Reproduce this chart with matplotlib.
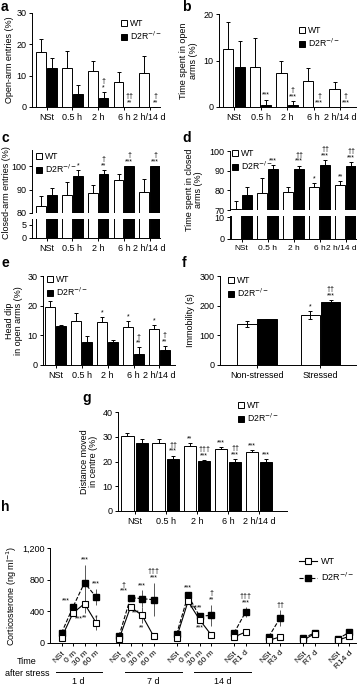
import numpy as np
import matplotlib
matplotlib.use("Agg")
import matplotlib.pyplot as plt
from matplotlib.patches import Patch
from matplotlib.lines import Line2D
from matplotlib.transforms import blended_transform_factory, ScaledTranslation

plt.rcParams['font.family'] = ['Liberation Sans', 'DejaVu Sans']
plt.rcParams['font.size'] = 6.5
plt.rcParams['axes.linewidth'] = 0.7
plt.rcParams['xtick.major.width'] = 0.7
plt.rcParams['ytick.major.width'] = 0.7
plt.rcParams['xtick.major.size'] = 2.5
plt.rcParams['ytick.major.size'] = 2.5
plt.rcParams['xtick.major.pad'] = 2
plt.rcParams['ytick.major.pad'] = 1.5

# ---- data ----
groups = ['NSt', '0.5 h', '2 h', '6 h', '2 h/14 d']
D2R = 'D2R$^{-/-}$'

# a: open-arm entries (%)
a_wt = [17.4, 12.3, 11.4, 8.0, 10.9]
a_wt_err = [4.2, 5.6, 3.4, 3.3, 5.4]
a_ko = [12.3, 4.1, 3.0, 0, 0]
a_ko_err = [3.2, 2.8, 1.8, 0, 0]
a_marks = ['', '', '†\n*', '††\n**', '†\n**']

# b: time spent in open arms (%)
b_wt = [12.4, 8.6, 7.3, 5.6, 3.8]
b_wt_err = [5.8, 6.3, 2.5, 2.7, 1.5]
b_ko = [8.5, 0.5, 0.4, 0, 0]
b_ko_err = [5.7, 1.1, 0.8, 0, 0]
b_marks = ['', '***', '†\n***', '†\n***', '†\n***']

# c: closed-arm entries (%)
c_wt = [82.8, 87.8, 88.6, 94.3, 89.2]
c_wt_err = [4.3, 5.6, 3.4, 2.6, 5.4]
c_ko = [87.8, 95.9, 96.8, 100, 100]
c_ko_err = [3.1, 2.6, 1.5, 0, 0]
c_marks = ['', '*', '†\n**', '†\n***', '†\n***']

# d: time spent in closed arms (%)
d_wt = [70.6, 78.8, 78.9, 81.7, 82.5]
d_wt_err = [3.8, 7.6, 2.9, 2.2, 2.3]
d_ko = [77.7, 91.0, 90.6, 93.1, 92.5]
d_ko_err = [4.2, 1.8, 2.0, 2.3, 2.1]
d_wt_marks = ['', '', '', '*', '**']
d_marks = ['', '***', '††\n***', '††\n***', '††\n***']

# e: head dip in open arms (%)
e_wt = [19.7, 15.0, 14.6, 12.9, 12.1]
e_wt_err = [1.8, 2.6, 1.6, 2.0, 1.4]
e_ko = [13.1, 7.9, 7.6, 3.7, 5.1]
e_ko_err = [0.5, 1.8, 0.9, 2.2, 1.3]
e_wt_marks = ['', '', '*', '*', '*']
e_marks = ['', '', '', '†\n**', '†\n**']

# f: immobility (s)
f_cats = ['Non-stressed', 'Stressed']
f_wt = [137, 168]
f_wt_err = [10, 14]
f_ko = [154, 211]
f_ko_err = [2, 7]
f_wt_marks = ['', '*']
f_marks = ['', '††\n***']

# g: distance moved in centre (%)
g_wt = [30.3, 27.4, 26.2, 25.0, 23.8]
g_wt_err = [1.2, 1.5, 1.1, 1.0, 0.7]
g_ko = [27.4, 21.1, 20.1, 19.8, 19.8]
g_ko_err = [1.7, 1.3, 0.6, 1.3, 1.3]
g_wt_marks = ['', '', '**', '***', '***']
g_marks = ['', '††\n***', '†††\n***', '††\n***', '***']

# h: corticosterone (ng/ml)
h_x = [0, 1, 2, 3, 5, 6, 7, 8, 10, 11, 12, 13, 15, 16, 18, 19, 21, 22, 24, 25]
h_labels = ['NSt', '0 m', '30 m', '60 m'] * 3 + ['NSt', 'R1 d', 'NSt', 'R3 d',
                                                  'NSt', 'R7 d', 'NSt', 'R14 d']
h_segments = [(0, 4), (4, 8), (8, 12), (12, 14), (14, 16), (16, 18), (18, 20)]
h_wt = [67, 379, 497, 257, 50, 455, 350, 88, 67, 526, 295, 105,
        76, 139, 34, 76, 34, 118, 34, 84]
h_wt_err = [15, 25, 120, 90, 10, 25, 100, 15, 10, 25, 40, 20,
            10, 15, 8, 12, 8, 15, 8, 15]
h_ko = [126, 455, 762, 581, 88, 573, 560, 547, 110, 602, 337, 350,
        126, 391, 76, 315, 63, 126, 50, 134]
h_ko_err = [20, 30, 220, 105, 15, 25, 105, 210, 15, 30, 40, 130,
            20, 60, 15, 100, 12, 15, 10, 15]
# (point index, series, text, where)
h_marks = [(1, 'ko', '***', 'ul'), (1, 'wt', '***', 'lr'), (2, 'ko', '***', 'up'),
           (2, 'wt', '**', 'dn'), (3, 'ko', '***', 'up'), (3, 'wt', '*', 'mid'),
           (5, 'ko', '†\n***', 'ul'), (5, 'wt', '***', 'lr'), (6, 'ko', '***', 'up'),
           (6, 'wt', '**', 'dn'), (7, 'ko', '†††\n***', 'up'),
           (9, 'ko', '***', 'up'), (9, 'wt', '***', 'lr'), (10, 'ko', '**', 'up'),
           (10, 'wt', '***', 'dn'), (11, 'ko', '†\n**', 'up'),
           (13, 'ko', '†††\n***', 'up'), (15, 'ko', '††', 'up')]
h_groups = [('1 d', 0, 3), ('7 d', 5, 8), ('14 d', 10, 13)]

W, H = 359, 685
fig = plt.figure(figsize=(W / 100, H / 100), dpi=100)


def px_axes(l, t, r, b):
    return fig.add_axes([l / W, 1 - b / H, (r - l) / W, (b - t) / H])


def style(ax, bottom=True):
    ax.spines['top'].set_visible(False)
    ax.spines['right'].set_visible(False)
    if not bottom:
        ax.spines['bottom'].set_visible(False)
        ax.tick_params(axis='x', bottom=False, labelbottom=False)


def draw_bars(ax, wt, wt_err, ko, ko_err, width=0.38, off=0.21, both=False):
    x = np.arange(len(wt))
    ekw = dict(elinewidth=0.7, capsize=1.5, capthick=0.7, ecolor='black')
    wl = wt_err if both else [np.zeros(len(wt)), wt_err]
    kl = ko_err if both else [np.zeros(len(ko)), ko_err]
    ax.bar(x - off, wt, width, color='white', edgecolor='black', lw=0.7,
           yerr=wl, error_kw=ekw, zorder=2)
    ax.bar(x + off, ko, width, color='black', edgecolor='black', lw=0.7,
           yerr=kl, error_kw=ekw, zorder=2)
    return x


def marks(ax, x, vals, errs, texts, off):
    for xi, v, e, t in zip(x, vals, errs, texts):
        if t:
            ax.annotate(t, (xi + off, v + e), xytext=(0, 0.5), textcoords='offset points',
                        ha='center', va='bottom', fontsize=5, linespacing=0.85,
                        annotation_clip=False)


def bar_legend(ax, x, y):
    h = [Patch(facecolor='white', edgecolor='black', lw=0.7),
         Patch(facecolor='black', edgecolor='black', lw=0.7)]
    ax.legend(h, ['WT', D2R], loc='upper left', bbox_to_anchor=(x / W, 1 - y / H),
              bbox_transform=fig.transFigure, frameon=False, fontsize=6.2,
              handlelength=0.7, handleheight=0.7, handletextpad=0.3,
              labelspacing=0.15, borderpad=0, borderaxespad=0)


def letter(x, y, s):
    fig.text(x / W, 1 - y / H, s, fontsize=10, fontweight='bold', va='top', ha='left')


# ---- a ----
ax = px_axes(32, 13, 160, 107)
x = draw_bars(ax, a_wt, a_wt_err, a_ko, a_ko_err)
marks(ax, x, a_ko, a_ko_err, a_marks, 0.21)
ax.set_ylim(0, 30)
ax.set_xlim(-0.57, 4.4)
ax.set_yticks([0, 10, 20, 30])
ax.set_xticks(x, groups)
ax.set_ylabel('Open-arm entries (%)', labelpad=2)
style(ax)
bar_legend(ax, 121, 19)
letter(1, 0, 'a')

# ---- b ----
ax = px_axes(219, 14, 356, 107)
x = draw_bars(ax, b_wt, b_wt_err, b_ko, b_ko_err)
marks(ax, x, b_ko, b_ko_err, b_marks, 0.21)
ax.set_ylim(0, 20)
ax.set_xlim(-0.565, 4.6)
ax.set_yticks([0, 10, 20])
ax.set_xticks(x, groups)
ax.set_ylabel('Time spent in open\narms (%)', labelpad=4, linespacing=1.1)
style(ax)
bar_legend(ax, 299, 26)
letter(182, 0, 'b')

# ---- c (broken axis) ----
ax = px_axes(32, 150, 160, 213)
x = draw_bars(ax, c_wt, c_wt_err, c_ko, c_ko_err)
marks(ax, x, c_ko, c_ko_err, c_marks, 0.21)
ax.set_ylim(80, 107)
ax.set_xlim(-0.57, 4.4)
ax.set_yticks([80, 90, 100])
style(ax, bottom=False)
bar_legend(ax, 36, 152)
axl = px_axes(32, 219, 160, 238)
draw_bars(axl, c_wt, c_wt_err, c_ko, c_ko_err)
axl.set_ylim(0, 7.3)
axl.set_xlim(-0.57, 4.4)
axl.set_yticks([0, 5])
axl.set_xticks(x, groups)
style(axl)
fig.text(7 / W, 1 - 193 / H, 'Closed-arm entries (%)', rotation=90, ha='center', va='center')
letter(1, 131, 'c')

# ---- d (broken axis) ----
ax = px_axes(230, 151, 356, 210)
x = draw_bars(ax, d_wt, d_wt_err, d_ko, d_ko_err)
marks(ax, x, d_ko, d_ko_err, d_marks, 0.21)
marks(ax, x, d_wt, d_wt_err, d_wt_marks, -0.21)
ax.set_ylim(70, 100)
ax.set_xlim(-0.45, 4.4)
ax.set_yticks([70, 80, 90, 100])
style(ax, bottom=False)
bar_legend(ax, 232, 149)
axl = px_axes(230, 216, 356, 239)
draw_bars(axl, d_wt, d_wt_err, d_ko, d_ko_err)
axl.set_ylim(0, 10.5)
axl.set_xlim(-0.45, 4.4)
axl.set_yticks([0, 10])
axl.set_xticks(x, groups, fontsize=6)
last = axl.get_xticklabels()[-1]
last.set_transform(last.get_transform() + ScaledTranslation(-4 / 100, 0, fig.dpi_scale_trans))
style(axl)
fig.text(194 / W, 1 - 190 / H, 'Time spent in closed\narms (%)', rotation=90,
         ha='center', va='center', linespacing=1.1)
letter(182, 131, 'd')

# ---- e ----
ax = px_axes(43, 276, 175, 365)
x = draw_bars(ax, e_wt, e_wt_err, e_ko, e_ko_err)
marks(ax, x, e_ko, e_ko_err, e_marks, 0.21)
marks(ax, x, e_wt, e_wt_err, e_wt_marks, -0.21)
ax.set_ylim(0, 30)
ax.set_xlim(-0.49, 4.6)
ax.set_yticks([0, 10, 20, 30])
ax.set_xticks(x, groups)
ax.set_ylabel('Head dip\nin open arms (%)', labelpad=3, linespacing=1.1)
style(ax)
bar_legend(ax, 47, 275)
letter(1, 256, 'e')

# ---- f ----
ax = px_axes(220, 276, 356, 365)
x = draw_bars(ax, f_wt, f_wt_err, f_ko, f_ko_err, width=0.31, off=0.16, both=True)
marks(ax, x, f_ko, f_ko_err, f_marks, 0.16)
marks(ax, x, f_wt, f_wt_err, f_wt_marks, -0.16)
ax.set_ylim(0, 300)
ax.set_xlim(-0.585, 1.56)
ax.set_yticks([0, 100, 200, 300])
ax.set_xticks(x, f_cats)
ax.set_ylabel('Immobility (s)', labelpad=3)
style(ax)
bar_legend(ax, 228, 276)
letter(182, 256, 'f')

# ---- g ----
ax = px_axes(118, 412, 287, 511)
x = draw_bars(ax, g_wt, g_wt_err, g_ko, g_ko_err, width=0.39, off=0.235)
marks(ax, x, g_ko, g_ko_err, g_marks, 0.235)
marks(ax, x, g_wt, g_wt_err, g_wt_marks, -0.235)
ax.set_ylim(0, 40)
ax.set_xlim(-0.54, 4.9)
ax.set_yticks([0, 10, 20, 30, 40])
ax.set_xticks(x, groups)
ax.set_ylabel('Distance moved\nin centre (%)', labelpad=3, linespacing=1.1)
style(ax)
bar_legend(ax, 238, 401)
letter(82, 391, 'g')

# ---- h ----
ax = px_axes(50, 548, 356, 643)
hx = np.array(h_x)
wt = np.array(h_wt)
ko = np.array(h_ko)
ekw = dict(elinewidth=0.7, capsize=0, ecolor='0.35', zorder=2)
for s0, s1 in h_segments:
    ax.errorbar(hx[s0:s1], ko[s0:s1], yerr=h_ko_err[s0:s1], fmt='none', **ekw)
    ax.errorbar(hx[s0:s1], wt[s0:s1], yerr=h_wt_err[s0:s1], fmt='none', **ekw)
    ax.plot(hx[s0:s1], ko[s0:s1], ls='--', color='black', lw=0.8, marker='s', ms=4,
            mfc='black', mec='black', zorder=3)
    ax.plot(hx[s0:s1], wt[s0:s1], ls='-', color='black', lw=0.8, marker='s', ms=4,
            mfc='white', mec='black', mew=0.8, zorder=4)
offs = {'up': (0, 1, 'center', 'bottom'), 'dn': (0, -1, 'center', 'top'),
        'ul': (-5, 2, 'center', 'bottom'), 'lr': (4, -2, 'center', 'top'),
        'mid': (0, 1, 'center', 'bottom')}
for i, s, t, wh in h_marks:
    v = ko[i] if s == 'ko' else wt[i]
    e = h_ko_err[i] if s == 'ko' else h_wt_err[i]
    y = v - e if wh in ('dn',) else (v + e if wh == 'up' else v)
    if wh == 'lr':
        y = v
    dx, dy, ha, va = offs[wh]
    ax.annotate(t, (hx[i], y), xytext=(dx, dy), textcoords='offset points',
                ha=ha, va=va, fontsize=5, linespacing=0.85, annotation_clip=False)
ax.set_ylim(0, 1200)
ax.set_xlim(-1, 25.6)
ax.set_yticks([0, 400, 800, 1200], ['0', '400', '800', '1,200'])
ax.set_xticks(hx)
ax.set_xticklabels(h_labels, rotation=45, ha='right', rotation_mode='anchor', fontsize=6)
ax.set_ylabel('Corticosterone (ng ml$^{-1}$)', labelpad=2)
style(ax)
tr = blended_transform_factory(ax.transData, ax.transAxes)
for lab, g0, g1 in h_groups:
    ax.plot([h_x[g0] - 0.5, h_x[g1] + 0.5], [-0.31, -0.31], color='black', lw=0.7,
            transform=tr, clip_on=False)
    ax.text((h_x[g0] + h_x[g1]) / 2, -0.36, lab, transform=tr, ha='center', va='top',
            fontsize=6.5)
fig.text(27 / W, 1 - 662 / H, 'Time', ha='center', va='center', fontsize=6.5)
fig.text(27 / W, 1 - 673 / H, 'after stress', ha='center', va='center', fontsize=6.5)
lh = [Line2D([], [], color='black', lw=0.8, ls='-', marker='s', ms=4, mfc='white', mew=0.8),
      Line2D([], [], color='black', lw=0.8, ls='--', marker='s', ms=4, mfc='black')]
ax.legend(lh, ['WT', D2R], loc='upper left', bbox_to_anchor=(299 / W, 1 - 557 / H),
          bbox_transform=fig.transFigure, frameon=False, fontsize=6.5,
          handlelength=2.0, handletextpad=0.4, labelspacing=0.5, borderpad=0,
          borderaxespad=0)
letter(1, 500, 'h')

fig.savefig('out.png', dpi=100)
